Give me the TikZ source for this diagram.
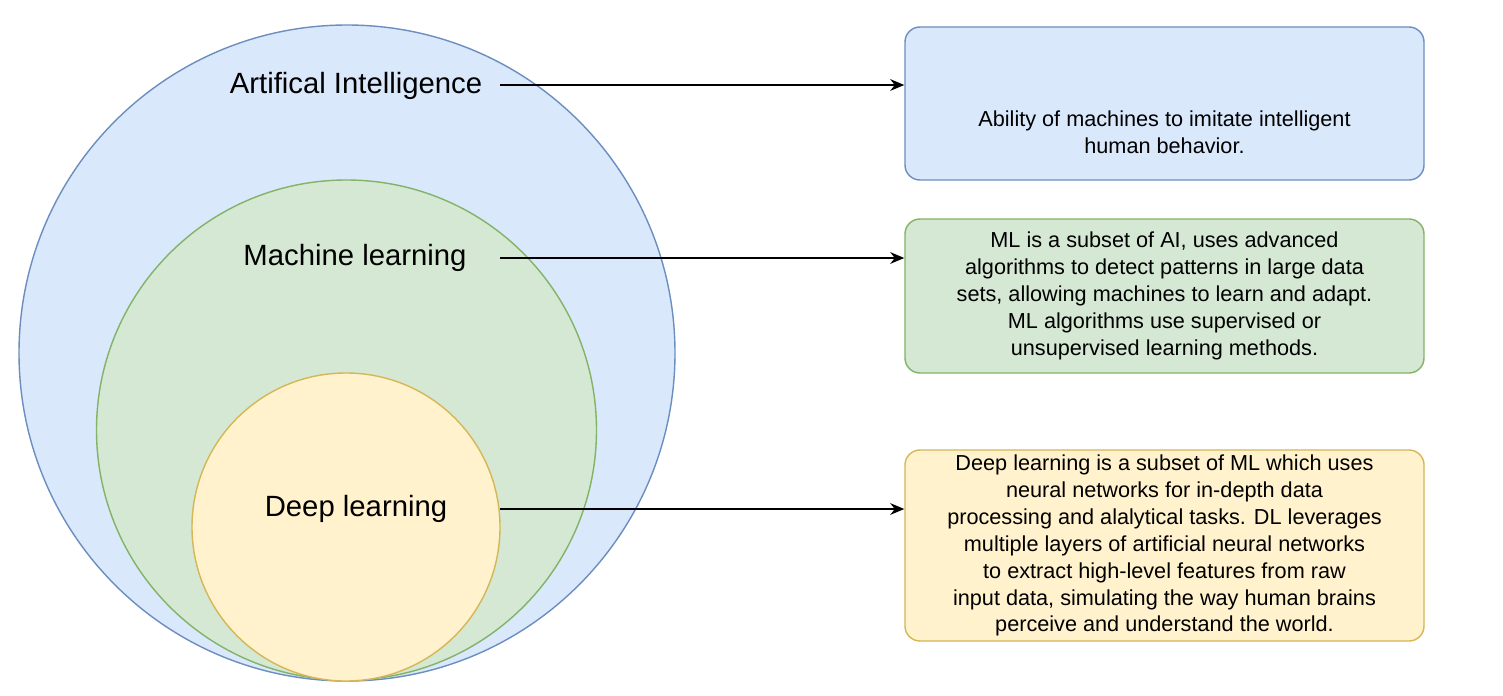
\documentclass[tikz,border=0pt]{standalone}
\usepackage{fontspec}
\setmainfont{Liberation Sans}
\usetikzlibrary{positioning,arrows.meta}
\definecolor{aifill}{HTML}{DAE8FC}\definecolor{aidraw}{HTML}{6C8EBF}
\definecolor{mlfill}{HTML}{D5E8D4}\definecolor{mldraw}{HTML}{82B366}
\definecolor{dlfill}{HTML}{FFF2CC}\definecolor{dldraw}{HTML}{D6B656}
\begin{document}
\begin{tikzpicture}[x=0.03cm,y=-0.03cm]
                \tikzstyle{label} = [font=\fontsize{25}{30}\selectfont]
                \tikzstyle{infobox} = [rectangle, rounded corners=0.45cm, minimum width=15.57cm, align=center, line width=1.2pt, font=\fontsize{18.5}{23}\selectfont]
                \tikzstyle{arrow} = [line width=1.2pt,-{Stealth[length=12pt,width=10pt]}]
                \useasboundingbox (0,0) rectangle (1503,696);
                \draw[aidraw, fill=aifill, line width=1.2pt] (347,353) circle (328);
                \draw[mldraw, fill=mlfill, line width=1.2pt] (346.5,430) circle (250);
                \draw[dldraw, fill=dlfill, line width=1.2pt] (346,527) circle (154);
                \node (ai) [label] at (356,86) {Artifical Intelligence};
                \node (ml) [label] at (355,258) {Machine learning};
                \node (dl) [label] at (356,509) {Deep learning};
                \coordinate (aiout) at (500,85);
                \coordinate (mlout) at (500,258);
                \coordinate (dlout) at (500,509);
                \node (aibox) [infobox, draw=aidraw, fill=aifill, minimum height=4.59cm, text height=3.0cm] at (1164.5,103.5) {Ability of machines to imitate intelligent\\human behavior.};
                \node (mlbox) [infobox, draw=mldraw, fill=mlfill, minimum height=4.62cm] at (1164.5,296) {ML is a subset of AI, uses advanced\\algorithms to detect patterns in large data\\sets, allowing machines to learn and adapt.\\ML algorithms use supervised or\\unsupervised learning methods.};
                \node (dlbox) [infobox, draw=dldraw, fill=dlfill, minimum height=5.73cm] at (1164.5,545.5) {Deep learning is a subset of ML which uses\\neural networks for in-depth data\\processing and alalytical tasks. DL leverages\\multiple layers of artificial neural networks\\to extract high-level features from raw\\input data, simulating the way human brains\\perceive and understand the world.};
                \draw [arrow] (aiout) -- (aiout -| aibox.west);
                \draw [arrow] (mlout) -- (mlout -| mlbox.west);
                \draw [arrow] (dlout) -- (dlout -| dlbox.west);
\end{tikzpicture}
\end{document}
